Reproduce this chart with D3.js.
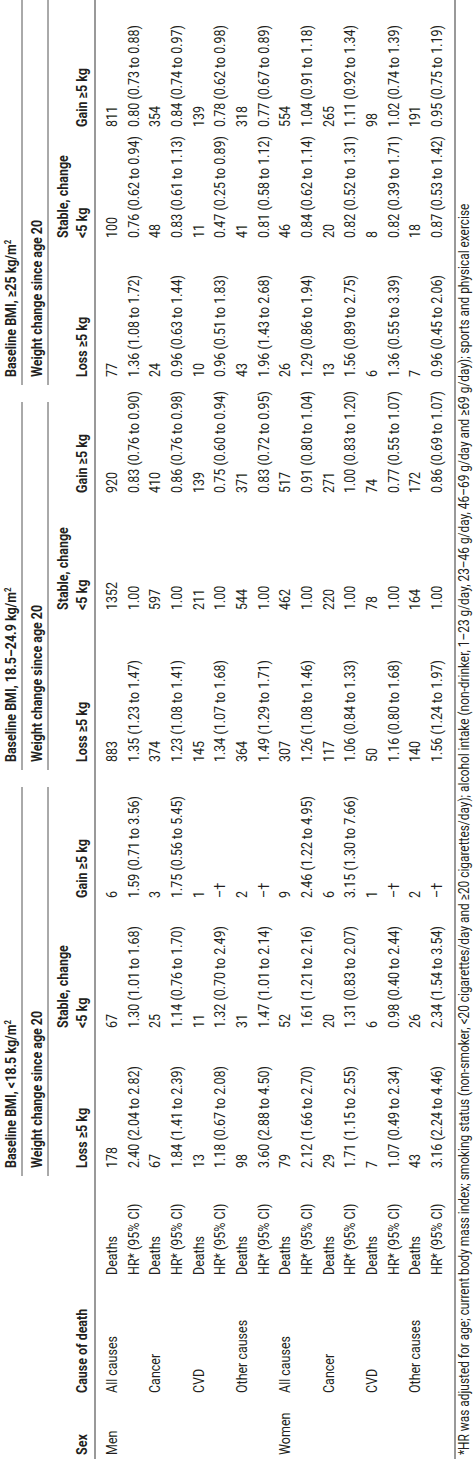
<!DOCTYPE html>
<html>
<head>
<meta charset="utf-8">
<script src="https://cdn.jsdelivr.net/npm/d3@7"></script>
<style>
  body { margin: 0; background: #fff; }
  text { font-family: "Liberation Sans Narrow", "Roboto", sans-serif; fill: #231f20; }
</style>
</head>
<body>
<svg id="table" width="474" height="1459"></svg>
<script>
// table data
const sexes = ["Men", "Women"];
const causes = ["All causes", "Cancer", "CVD", "Other causes"];
const groups = ["Baseline BMI, <18.5 kg/m", "Baseline BMI, 18.5–24.9 kg/m", "Baseline BMI, ≥25 kg/m"];
const colHeads = ["Loss ≥5 kg", "Stable, change|<5 kg", "Gain ≥5 kg"];
const columns = ["L1", "S1", "G1", "L2", "S2", "G2", "L3", "S3", "G3"];

const deaths = [
  [178, 67, 6, 883, 1352, 920, 77, 100, 811],
  [67, 25, 3, 374, 597, 410, 24, 48, 354],
  [13, 11, 1, 145, 211, 139, 10, 11, 139],
  [98, 31, 2, 364, 544, 371, 43, 41, 318],
  [79, 52, 9, 307, 462, 517, 26, 46, 554],
  [29, 20, 6, 117, 220, 271, 13, 20, 265],
  [7, 6, 1, 50, 78, 74, 6, 8, 98],
  [43, 26, 2, 140, 164, 172, 7, 18, 191]
];
const hr = [
  ["2.40 (2.04 to 2.82)", "1.30 (1.01 to 1.68)", "1.59 (0.71 to 3.56)", "1.35 (1.23 to 1.47)", "1.00", "0.83 (0.76 to 0.90)", "1.36 (1.08 to 1.72)", "0.76 (0.62 to 0.94)", "0.80 (0.73 to 0.88)"],
  ["1.84 (1.41 to 2.39)", "1.14 (0.76 to 1.70)", "1.75 (0.56 to 5.45)", "1.23 (1.08 to 1.41)", "1.00", "0.86 (0.76 to 0.98)", "0.96 (0.63 to 1.44)", "0.83 (0.61 to 1.13)", "0.84 (0.74 to 0.97)"],
  ["1.18 (0.67 to 2.08)", "1.32 (0.70 to 2.49)", "–†", "1.34 (1.07 to 1.68)", "1.00", "0.75 (0.60 to 0.94)", "0.96 (0.51 to 1.83)", "0.47 (0.25 to 0.89)", "0.78 (0.62 to 0.98)"],
  ["3.60 (2.88 to 4.50)", "1.47 (1.01 to 2.14)", "–†", "1.49 (1.29 to 1.71)", "1.00", "0.83 (0.72 to 0.95)", "1.96 (1.43 to 2.68)", "0.81 (0.58 to 1.12)", "0.77 (0.67 to 0.89)"],
  ["2.12 (1.66 to 2.70)", "1.61 (1.21 to 2.16)", "2.46 (1.22 to 4.95)", "1.26 (1.08 to 1.46)", "1.00", "0.91 (0.80 to 1.04)", "1.29 (0.86 to 1.94)", "0.84 (0.62 to 1.14)", "1.04 (0.91 to 1.18)"],
  ["1.71 (1.15 to 2.55)", "1.31 (0.83 to 2.07)", "3.15 (1.30 to 7.66)", "1.06 (0.84 to 1.33)", "1.00", "1.00 (0.83 to 1.20)", "1.56 (0.89 to 2.75)", "0.82 (0.52 to 1.31)", "1.11 (0.92 to 1.34)"],
  ["1.07 (0.49 to 2.34)", "0.98 (0.40 to 2.44)", "–†", "1.16 (0.80 to 1.68)", "1.00", "0.77 (0.55 to 1.07)", "1.36 (0.55 to 3.39)", "0.82 (0.39 to 1.71)", "1.02 (0.74 to 1.39)"],
  ["3.16 (2.24 to 4.46)", "2.34 (1.54 to 3.54)", "–†", "1.56 (1.24 to 1.97)", "1.00", "0.86 (0.69 to 1.07)", "0.96 (0.45 to 2.06)", "0.87 (0.53 to 1.42)", "0.95 (0.75 to 1.19)"]
];
const footnote = "*HR was adjusted for age; current body mass index; smoking status (non-smoker, <20 cigarettes/day and ≥20 cigarettes/day); alcohol intake (non-drinker, 1–23 g/day, 23–46 g/day, 46–69 g/day and ≥69 g/day); sports and physical exercise";

const W = 1459, H = 474;
const svg = d3.select("#table");
// table is laid out horizontally and turned a quarter left
const g = svg.append("g").attr("transform", "translate(0," + W + ") rotate(-90)");

const xCol = d3.scaleOrdinal().domain(["sex", "cause", "type"].concat(columns))
  .range([4, 66, 184, 291, 431, 561, 697, 849, 966, 1082, 1221, 1332]);

const rowIds = d3.range(causes.length * sexes.length * 2);
const yRow = d3.scalePoint().domain(rowIds).range([112, 437]);

// condensed look: squeeze the glyphs horizontally
function txt(x, y, s, bold, sx) {
  return g.append("text")
    .attr("transform", "translate(" + x + "," + y + ") scale(" + (sx || 0.86) + ",1)")
    .attr("dy", "0.35em")
    .attr("font-size", "14.5px")
    .attr("font-weight", bold ? "bold" : "normal").text(s);
}

// rules
function rule(x1, x2, y, w) {
  g.append("line").attr("x1", x1).attr("x2", x2).attr("y1", y).attr("y2", y)
    .attr("stroke", "#555").attr("stroke-width", w || 1);
}
const groupStarts = [xCol("L1"), xCol("L2"), xCol("L3"), 1600];
for (let i = 0; i < 3; i++) {
  rule(groupStarts[i] - 8, groupStarts[i + 1] - 25, 22);
  rule(groupStarts[i] - 8, groupStarts[i + 1] - 25, 48);
}
rule(0, 1600, 95, 1.2);
rule(0, 1600, 455, 1.2);

// header
groups.forEach((s, i) => {
  const t = txt(xCol(columns[i * 3]), 11, s, true);
  t.append("tspan").attr("font-size", "9px").attr("baseline-shift", "super").text("2");
  txt(xCol(columns[i * 3]), 37, "Weight change since age 20", true);
  colHeads.forEach((h, j) => {
    const parts = h.split("|");
    const x = xCol(columns[i * 3 + j]);
    if (parts.length > 1) {
      txt(x, 63, parts[0], true);
      txt(x, 82, parts[1], true);
    } else {
      txt(x, 82, parts[0], true);
    }
  });
});
txt(xCol("sex"), 82, "Sex", true);
txt(xCol("cause"), 82, "Cause of death", true);

// body
rowIds.forEach(r => {
  const ci = Math.floor(r / 2);
  const isHR = r % 2 === 1;
  const y = yRow(r);
  if (!isHR) {
    if (ci % causes.length === 0) txt(xCol("sex"), y, sexes[Math.floor(ci / causes.length)]);
    txt(xCol("cause"), y, causes[ci % causes.length]);
  }
  txt(xCol("type"), y, isHR ? "HR* (95% CI)" : "Deaths");
  columns.forEach((c, k) => {
    txt(xCol(c), y, isHR ? hr[ci][k] : deaths[ci][k]);
  });
});

txt(4, 464, footnote, false, 0.82);
</script>
</body>
</html>
